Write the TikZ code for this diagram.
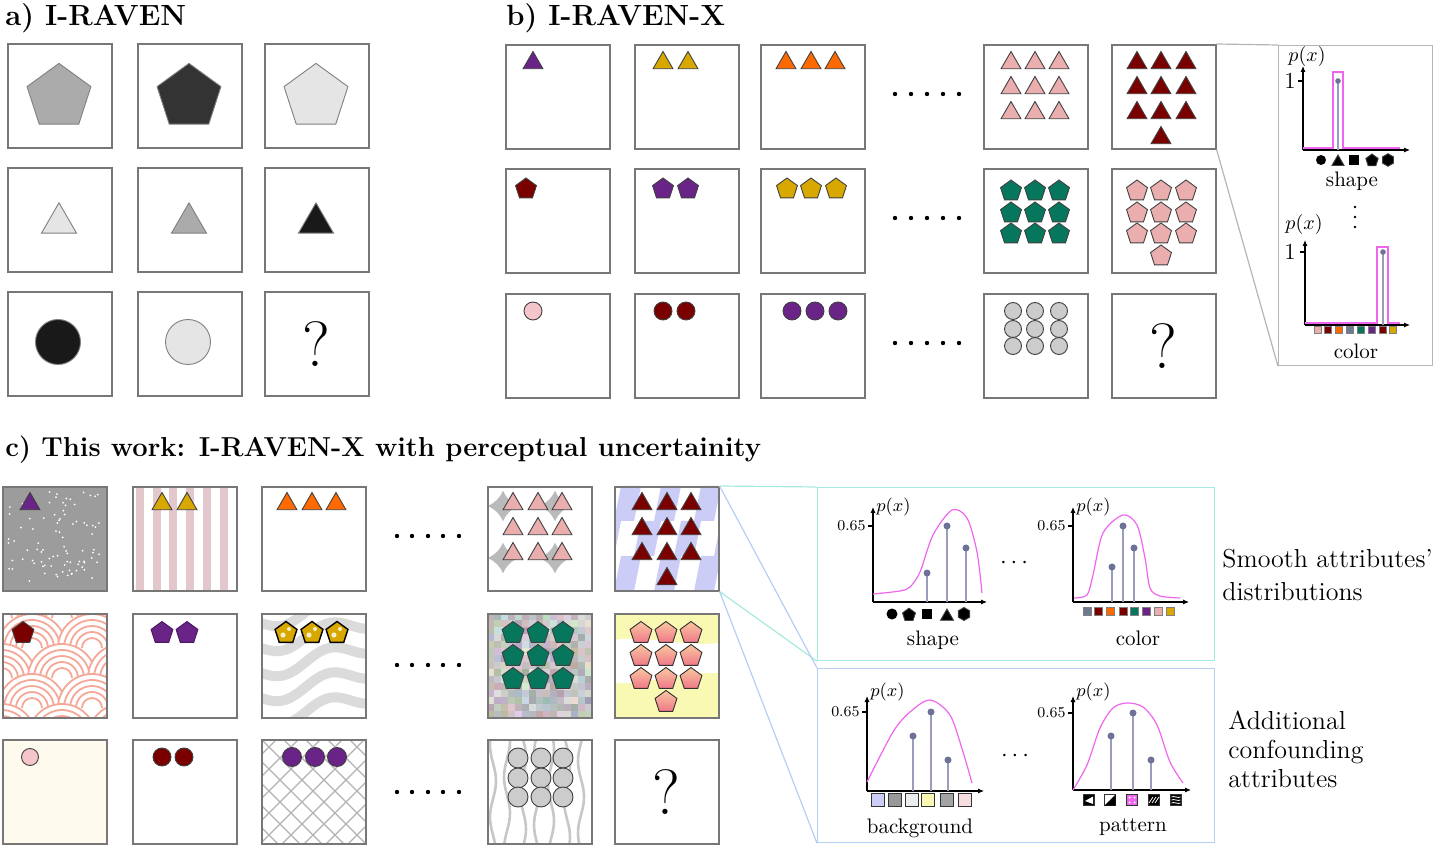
\documentclass[tikz,border=0pt]{standalone}
\usepackage{tikz}
\usetikzlibrary{positioning,arrows.meta,calc,backgrounds}
\usepackage{amsmath,amssymb}

\definecolor{cellgray}{HTML}{777777}
\definecolor{rvpurple}{HTML}{6A2386}
\definecolor{rvgold}{HTML}{D8A800}
\definecolor{rvorange}{HTML}{FF6A00}
\definecolor{rvred}{HTML}{7A0000}
\definecolor{rvteal}{HTML}{06775C}
\definecolor{rvpink}{HTML}{EBAEAE}
\definecolor{rvrose}{HTML}{F4C6CC}
\definecolor{rvsilver}{HTML}{CCCCCC}
\definecolor{rvslate}{HTML}{6E7A90}
\definecolor{curvepink}{HTML}{EE66EE}
\definecolor{stemcol}{HTML}{9A9CBE}
\definecolor{dotcol}{HTML}{6E7296}
\definecolor{tealline}{HTML}{A6E9DE}
\definecolor{blueline}{HTML}{B4CFF2}
\definecolor{zoomline}{HTML}{B5B5B5}
\definecolor{stripecol}{HTML}{E2C8CC}
\definecolor{lavcol}{HTML}{CBCDF6}
\definecolor{salmoncol}{HTML}{F6A898}
\definecolor{yellowbg}{HTML}{F9F9B4}
\definecolor{creambg}{HTML}{FFFAEE}
\definecolor{peachcol}{HTML}{F8C8A0}
\definecolor{rosecol}{HTML}{F07888}

% shapes: centre x, centre y, radius, options
\newcommand{\rvtri}[4]{\filldraw[shapeline,#4,shift={(#1,#2)}] (-90:#3) -- (30:#3) -- (150:#3) -- cycle;}
\newcommand{\rvpent}[4]{\filldraw[shapeline,#4,shift={(#1,#2)}] (-90:#3) -- (-18:#3) -- (54:#3) -- (126:#3) -- (198:#3) -- cycle;}
\newcommand{\rvhex}[4]{\filldraw[shapeline,#4,shift={(#1,#2)}] (-90:#3) -- (-30:#3) -- (30:#3) -- (90:#3) -- (150:#3) -- (210:#3) -- cycle;}
\newcommand{\rvdisc}[4]{\filldraw[shapeline,#4] (#1,#2) circle[radius=#3];}

\begin{document}
\begin{tikzpicture}[
  x=0.5pt,y=-0.5pt,
  cell/.style={draw=cellgray,line width=0.8pt,minimum size=52pt,inner sep=0pt,anchor=north west},
  shapeline/.style={draw=black!75,line width=0.45pt},
  title/.style={font=\fontsize{14.6}{17}\selectfont\bfseries,anchor=north west,inner sep=0pt},
  qmark/.style={font=\fontsize{32}{32}\selectfont,inner sep=0pt},
  axis/.style={-{Latex[length=3pt,width=2.6pt]},line width=0.55pt},
  curve/.style={curvepink,line width=0.6pt},
  stem/.style={stemcol,line width=1pt},
  pxlbl/.style={font=\fontsize{9.5}{11}\selectfont,inner sep=0pt},
  ticklbl/.style={font=\fontsize{7.5}{9}\selectfont,inner sep=1pt,anchor=east},
  axlbl/.style={font=\fontsize{10.5}{12}\selectfont,inner sep=0pt},
  zoombox/.style={line width=0.6pt,inner sep=0pt,anchor=north west},
  sqicon/.style={draw=black!80,line width=0.45pt}
]
\useasboundingbox (0,0) rectangle (1453,845);

% titles
\node[title] (tA) at (5,3) {a) I-RAVEN};
\node[title] (tB) at (506,3) {b) I-RAVEN-X};
\node[title,font=\fontsize{13.7}{16}\selectfont\bfseries] (tC) at (5,436) {c) This work: I-RAVEN-X with perceptual uncertainity};

% cells
\foreach \r/\yy in {1/43,2/167,3/291}
  \foreach \c/\xx in {1/7,2/137,3/264}
    {\node[cell] (a\r\c) at (\xx,\yy) {};}
\foreach \r/\yy in {1/44,2/168,3/293}
  \foreach \c/\xx in {1/505,2/634,3/760,4/983,5/1111}
    {\node[cell] (b\r\c) at (\xx,\yy) {};}
\foreach \r/\yy in {1/486,2/613,3/739}
  \foreach \c/\xx in {1/2,2/132,3/261,4/487,5/614}
    {\node[cell] (c\r\c) at (\xx,\yy) {};}

% a) I-RAVEN
\foreach \n/\f in {a11/black!33,a12/black!80,a13/black!10}{
  \begin{scope}[shift={(\n.north west)}]
    \rvpent{52}{54}{33.6}{fill=\f,draw=black!50}
  \end{scope}}
\foreach \n/\f in {a21/black!10,a22/black!33,a23/black!90}{
  \begin{scope}[shift={(\n.north west)}]
    \rvtri{52}{56}{20.2}{fill=\f,draw=black!50}
  \end{scope}}
\foreach \n/\f in {a31/black!90,a32/black!10}{
  \begin{scope}[shift={(\n.north west)}]
    \rvdisc{51}{51}{22.5}{fill=\f,draw=black!50}
  \end{scope}}
\node[qmark] (qa) at (a33.center) {?};

% b) I-RAVEN-X
\begin{scope}[shift={(b11.north west)}] \rvtri{28}{19}{11.5}{fill=rvpurple} \end{scope}
\begin{scope}[shift={(b12.north west)}]
  \foreach \px in {29,54} {\rvtri{\px}{19}{11.5}{fill=rvgold}}
\end{scope}
\begin{scope}[shift={(b13.north west)}]
  \foreach \px in {26,51,75} {\rvtri{\px}{19}{11.5}{fill=rvorange}}
\end{scope}
\begin{scope}[shift={(b14.north west)}]
  \foreach \px in {28,52,76} \foreach \py in {19,44,69} {\rvtri{\px}{\py}{11.5}{fill=rvpink}}
\end{scope}
\begin{scope}[shift={(b15.north west)}]
  \foreach \px in {26,50,75} \foreach \py in {19,44,69} {\rvtri{\px}{\py}{11.5}{fill=rvred}}
  \rvtri{50}{94}{11.5}{fill=rvred}
\end{scope}
\begin{scope}[shift={(b21.north west)}] \rvpent{21}{21}{11}{fill=rvred} \end{scope}
\begin{scope}[shift={(b22.north west)}]
  \foreach \px in {29,54} {\rvpent{\px}{21}{11}{fill=rvpurple}}
\end{scope}
\begin{scope}[shift={(b23.north west)}]
  \foreach \px in {27,51,76} {\rvpent{\px}{21}{11}{fill=rvgold}}
\end{scope}
\begin{scope}[shift={(b24.north west)}]
  \foreach \px in {28,52,76} \foreach \py in {23,45,66} {\rvpent{\px}{\py}{11}{fill=rvteal}}
\end{scope}
\begin{scope}[shift={(b25.north west)}]
  \foreach \px in {26,50,75} \foreach \py in {23,45,66} {\rvpent{\px}{\py}{11}{fill=rvpink}}
  \rvpent{50}{88}{11}{fill=rvpink}
\end{scope}
\begin{scope}[shift={(b31.north west)}] \rvdisc{28}{18}{9}{fill=rvrose} \end{scope}
\begin{scope}[shift={(b32.north west)}]
  \foreach \px in {29,52} {\rvdisc{\px}{18}{9}{fill=rvred}}
\end{scope}
\begin{scope}[shift={(b33.north west)}]
  \foreach \px in {32,55,78} {\rvdisc{\px}{18}{9}{fill=rvpurple}}
\end{scope}
\begin{scope}[shift={(b34.north west)}]
  \foreach \px in {30,52,76} \foreach \py in {18,36,53} {\rvdisc{\px}{\py}{8.5}{fill=rvsilver}}
\end{scope}
\node[qmark] (qb) at (b35.center) {?};
\foreach \yy in {94,218,343}
  \foreach \xx in {895,911,927,943,959}
    {\fill (\xx,\yy) circle[radius=2.2];}

% b) one-hot inset
\node[zoombox,draw=zoomline,minimum width=77pt,minimum height=160pt] (bzoom) at (1278,45) {};
\draw[zoomline,line width=0.6pt] (b15.north east) -- (bzoom.north west);
\draw[zoomline,line width=0.6pt] (b15.south east) -- (bzoom.south west);

\draw[axis] (1303,150) -- (1410,150);
\draw[axis] (1303,150) -- (1303,66);
\draw[line width=0.55pt] (1298,81) -- (1303,81);
\node[pxlbl,font=\fontsize{10}{12}\selectfont] (ipx1) at (1307,57) {$p(x)$};
\node[font=\fontsize{11.5}{12}\selectfont,inner sep=0pt] (ione1) at (1290,81) {1};
\draw[curve] (1303,148) -- (1333,148) -- (1333,72) -- (1343,72) -- (1343,148) -- (1400,148);
\draw[stem] (1338,150) -- (1338,81);
\fill[dotcol] (1338,81) circle[radius=2.8];
\fill (1321,160) circle[radius=5];
\rvtri{1338}{162}{7}{fill=black}
\fill (1348.5,155) rectangle (1358.5,165);
\rvpent{1372}{160.5}{6.5}{fill=black}
\rvhex{1388}{160}{6.3}{fill=black}
\node[axlbl] (ishape) at (1352,181) {shape};
\foreach \vy in {207,217,227} {\fill (1355,\vy) circle[radius=1.4];}

\draw[axis] (1305,325) -- (1410,325);
\draw[axis] (1305,325) -- (1305,240);
\draw[line width=0.55pt] (1300,252) -- (1305,252);
\node[pxlbl,font=\fontsize{10}{12}\selectfont] (ipx2) at (1304,225) {$p(x)$};
\node[font=\fontsize{11.5}{12}\selectfont,inner sep=0pt] (ione2) at (1290,252) {1};
\draw[curve] (1305,323) -- (1377,323) -- (1377,247) -- (1388,247) -- (1388,323) -- (1400,323);
\draw[stem] (1383,325) -- (1383,252);
\fill[dotcol] (1383,252) circle[radius=2.8];
\foreach \sx/\sc in {1318/rvpink,1328/rvred,1339/rvorange,1350/rvslate,1361/rvteal,1372/rvpurple,1383/rvred,1393/rvgold}
  {\filldraw[fill=\sc,draw=gray,line width=0.3pt] (\sx-3.5,326.5) rectangle ++(7,7);}
\node[axlbl] (icolor) at (1356,351) {color};

% c) backgrounds
\begin{scope}[on background layer]
  \begin{scope}[shift={(c11.north west)}]
    \clip (0,0) rectangle (104,104);
    \fill[black!39] (0,0) rectangle (104,104);
    \pgfmathsetseed{11}
    \foreach \k in {1,...,90}
      {\fill[white] (52+46*rand,52+46*rand) circle[radius=1];}
  \end{scope}
  \begin{scope}[shift={(c12.north west)}]
    \clip (0,0) rectangle (104,104);
    \foreach \k in {0,...,6}
      {\fill[stripecol] (4+16.7*\k,0) rectangle ++(8,104);}
  \end{scope}
  \begin{scope}[shift={(c14.north west)}]
    \clip (0,0) rectangle (104,104);
    \fill[black!27] (0,0) rectangle (104,104);
    \foreach \px in {-10,42,94,146}
      \foreach \py in {-6,46,98,150}
        {\fill[white] (\px,\py) circle[radius=28];}
  \end{scope}
  \begin{scope}[shift={(c15.north west)}]
    \clip (0,0) rectangle (104,104);
    \foreach \r/\ox in {0/0,1/20,2/0}
      \foreach \k in {-1,...,3}
        {\fill[lavcol] (\k*40+\ox+7,\r*35) -- ++(20,0) -- ++(-7,35) -- ++(-20,0) -- cycle;}
  \end{scope}
  \begin{scope}[shift={(c21.north west)}]
    \clip (0,0) rectangle (104,104);
    \foreach \py/\ox in {5/0,35/30,65/0,95/30,125/0}
      \foreach \k in {-1,0,1,2}{
        \begin{scope}[shift={(\ox+\k*60,\py)}]
          \fill[white] (180:34) arc[start angle=180,end angle=360,radius=34] -- cycle;
          \foreach \rr in {34,28,22,16,10}
            {\draw[salmoncol,line width=0.9pt] (180:\rr) arc[start angle=180,end angle=360,radius=\rr];}
        \end{scope}}
  \end{scope}
  \begin{scope}[shift={(c23.north west)}]
    \clip (0,0) rectangle (104,104);
    \foreach \w in {10,35,60,85,110,135}
      {\draw[black!14,line width=5pt] plot[domain=-10:115,samples=40,smooth] (\x,{\w+8*sin(4*\x)-0.25*\x});}
  \end{scope}
  \begin{scope}[shift={(c24.north west)}]
    \clip (0,0) rectangle (104,104);
    \pgfmathsetseed{5}
    \foreach \i in {0,...,14}
      \foreach \j in {0,...,14}{
        \pgfmathsetmacro{\ngray}{0.68+0.18*rnd}
        \pgfmathsetmacro{\nr}{min(1,max(0,\ngray+0.07*rand))}
        \pgfmathsetmacro{\ng}{min(1,max(0,\ngray+0.07*rand))}
        \pgfmathsetmacro{\nb}{min(1,max(0,\ngray+0.07*rand))}
        \definecolor{noisecol}{rgb}{\nr,\ng,\nb}
        \fill[noisecol] (\i*7,\j*7) rectangle ++(7.2,7.2);
      }
  \end{scope}
  \begin{scope}[shift={(c25.north west)}]
    \clip (0,0) rectangle (104,104);
    \fill[yellowbg] (0,0) rectangle (104,104);
    \fill[white] (0,27) .. controls (35,22) and (70,34) .. (104,30)
      -- (104,60) .. controls (70,58) and (35,72) .. (0,70) -- cycle;
  \end{scope}
  \fill[creambg] (c31.south west) rectangle (c31.north east);
  \begin{scope}[shift={(c33.north west)}]
    \clip (0,0) rectangle (104,104);
    \foreach \k in {-6,...,6}{
      \draw[black!30,line width=0.7pt] (\k*22,0) -- ++(110,110);
      \draw[black!30,line width=0.7pt] (\k*22+104,0) -- ++(-110,110);}
  \end{scope}
  \begin{scope}[shift={(c34.north west)}]
    \clip (0,0) rectangle (104,104);
    \foreach \vx in {6,20,36,50,64,80,94}
      {\draw[black!22,line width=1.3pt] plot[domain=0:104,samples=25,smooth] ({\vx+3*sin(5*\x+40*\vx)},\x);}
  \end{scope}
\end{scope}

% c) shapes
\begin{scope}[shift={(c11.north west)}] \rvtri{28}{18}{11.5}{fill=rvpurple} \end{scope}
\begin{scope}[shift={(c12.north west)}]
  \foreach \px in {30,55} {\rvtri{\px}{18}{11.5}{fill=rvgold}}
\end{scope}
\begin{scope}[shift={(c13.north west)}]
  \foreach \px in {26,51,75} {\rvtri{\px}{18}{11.5}{fill=rvorange}}
\end{scope}
\begin{scope}[shift={(c14.north west)}]
  \foreach \px in {26,51,75} \foreach \py in {18,43,68} {\rvtri{\px}{\py}{11.5}{fill=rvpink}}
\end{scope}
\begin{scope}[shift={(c15.north west)}]
  \foreach \px in {28,53,77} \foreach \py in {18,43,68} {\rvtri{\px}{\py}{11.5}{fill=rvred}}
  \rvtri{53}{93}{11.5}{fill=rvred}
\end{scope}
\begin{scope}[shift={(c21.north west)}] \rvpent{21}{20}{11.5}{fill=rvred} \end{scope}
\begin{scope}[shift={(c22.north west)}]
  \foreach \px in {30,55} {\rvpent{\px}{20}{11.5}{fill=rvpurple,draw=rvpurple!70!black}}
\end{scope}
\begin{scope}[shift={(c23.north west)}]
  \foreach \px in {25,51,76}{
    \rvpent{\px}{20}{11.5}{fill=rvgold,draw=black,line width=0.7pt}
    \fill[white!80!rvgold] (\px-3,22) circle[radius=2.6];
    \fill[white!80!rvgold] (\px+3,16) circle[radius=2];}
\end{scope}
\begin{scope}[shift={(c24.north west)}]
  \foreach \px in {26,51,76} \foreach \py in {20,43,66} {\rvpent{\px}{\py}{11.5}{fill=rvteal}}
\end{scope}
\begin{scope}[shift={(c25.north west)}]
  \foreach \px/\py in {27/20,52/20,77/20,27/43,52/43,77/43,27/66,52/66,77/66,52/89}
    {\rvpent{\px}{\py}{11.5}{top color=peachcol,bottom color=rosecol,draw=black!80}}
\end{scope}
\begin{scope}[shift={(c31.north west)}] \rvdisc{28}{18}{8.5}{fill=rvrose} \end{scope}
\begin{scope}[shift={(c32.north west)}]
  \foreach \px in {30,52} {\rvdisc{\px}{18}{9}{fill=rvred}}
\end{scope}
\begin{scope}[shift={(c33.north west)}]
  \foreach \px in {31,54,76} {\rvdisc{\px}{18}{9.5}{fill=rvpurple}}
\end{scope}
\begin{scope}[shift={(c34.north west)}]
  \foreach \px in {31,54,76} \foreach \py in {19,39,58} {\rvdisc{\px}{\py}{10}{fill=rvsilver}}
\end{scope}
\node[qmark] (qc) at (c35.center) {?};
\foreach \yy in {536,665,792}
  \foreach \xx in {397,412,428,443,459}
    {\fill (\xx,\yy) circle[radius=2.2];}

% c) distribution panels
\node[zoombox,draw=tealline,minimum width=198.5pt,minimum height=86.5pt] (smoothbox) at (817,487) {};
\node[zoombox,draw=blueline,minimum width=198.5pt,minimum height=87pt] (confbox) at (817,668) {};
\draw[tealline,line width=0.6pt] (c15.north east) -- (smoothbox.north west);
\draw[tealline,line width=0.6pt] (c15.south east) -- (smoothbox.south west);
\draw[blueline,line width=0.6pt] (c15.north east) -- (confbox.north west);
\draw[blueline,line width=0.6pt] (c15.south east) -- (confbox.south west);

% shape
\draw[axis] (873,602) -- (987,602);
\draw[axis] (873,602) -- (873,507);
\draw[line width=0.55pt] (868,526) -- (873,526);
\node[ticklbl] (tk1) at (868,526) {0.65};
\node[pxlbl,anchor=west] (px1) at (876,507) {$p(x)$};
\draw[curve] plot[smooth] coordinates {(873,594) (900,591) (910,587) (920,572) (933,535) (952,510) (967,518) (977,552) (982,593)};
\foreach \sx/\sy in {927/573,947/526,966/548}{
  \draw[stem] (\sx,602) -- (\sx,\sy);
  \fill[dotcol] (\sx,\sy) circle[radius=3.5];}
\fill (892,614) circle[radius=5.5];
\rvpent{909}{615}{6.8}{fill=black}
\fill (922,609) rectangle (932,619);
\rvtri{947}{616.5}{7.5}{fill=black}
\rvhex{964}{614}{6.5}{fill=black}
\node[axlbl] (l1) at (933,640) {shape};
\node[font=\fontsize{12}{12}\selectfont,inner sep=0pt] (sdots) at (1016,563) {$\cdots$};

% color
\draw[axis] (1073,602) -- (1189,602);
\draw[axis] (1073,602) -- (1073,507);
\draw[line width=0.55pt] (1068,526) -- (1073,526);
\node[ticklbl] (tk2) at (1068,526) {0.65};
\node[pxlbl,anchor=west] (px2) at (1076,507) {$p(x)$};
\draw[curve] plot[smooth] coordinates {(1074,598) (1087,595) (1093,575) (1103,533) (1123,515) (1137,525) (1145,558) (1150,588) (1160,596) (1180,598)};
\foreach \sx/\sy in {1112/567,1123/526,1134/548}{
  \draw[stem] (\sx,602) -- (\sx,\sy);
  \fill[dotcol] (\sx,\sy) circle[radius=3.5];}
\foreach \sx/\sc in {1087/rvslate,1098/rvred,1110/rvorange,1123/rvred,1134/rvteal,1146/rvpurple,1158/rvpink,1170/rvgold}
  {\filldraw[fill=\sc,draw=gray,line width=0.3pt] (\sx-4,607) rectangle ++(8,8);}
\node[axlbl] (l2) at (1138,638) {color};

% background
\draw[axis] (867,791) -- (984,791);
\draw[axis] (867,791) -- (867,696);
\draw[line width=0.55pt] (862,712) -- (867,712);
\node[ticklbl] (tk3) at (862,712) {0.65};
\node[pxlbl,anchor=west] (px3) at (870,692) {$p(x)$};
\draw[curve] plot[smooth] coordinates {(867,782) (893,732) (910,712) (930,700) (950,715) (963,752) (972,783)};
\foreach \sx/\sy in {913/736,931/712,948/760}{
  \draw[stem] (\sx,791) -- (\sx,\sy);
  \fill[dotcol] (\sx,\sy) circle[radius=3.5];}
\foreach \sx/\sc in {878/lavcol,895/black!40,912/black!7,928/yellowbg,947/black!36,965/rvrose!60}
  {\filldraw[fill=\sc,sqicon] (\sx-6.5,793.5) rectangle ++(13,13);}
\node[axlbl] (l3) at (920,828) {background};
\node[font=\fontsize{12}{12}\selectfont,inner sep=0pt] (cdots) at (1017,756) {$\cdots$};

% pattern
\draw[axis] (1073,790) -- (1191,790);
\draw[axis] (1073,790) -- (1073,696);
\draw[line width=0.55pt] (1068,713) -- (1073,713);
\node[ticklbl] (tk4) at (1068,713) {0.65};
\node[pxlbl,anchor=west] (px4) at (1076,692) {$p(x)$};
\draw[curve] plot[smooth] coordinates {(1073,790) (1087,765) (1100,728) (1113,708) (1127,703) (1143,707) (1157,725) (1170,762) (1183,783)};
\foreach \sx/\sy in {1111/736,1133/713,1151/760}{
  \draw[stem] (\sx,790) -- (\sx,\sy);
  \fill[dotcol] (\sx,\sy) circle[radius=3.5];}
\filldraw[fill=black,sqicon] (1083.5,794.5) rectangle ++(11,11);
\fill[white] (1085,801) -- (1093,796.5) -- (1093,804) -- cycle;
\draw[sqicon] (1104.5,794.5) rectangle ++(11,11);
\fill (1115.5,794.5) -- (1115.5,805.5) -- (1104.5,805.5) -- cycle;
\filldraw[fill=curvepink,sqicon] (1126.5,794.5) rectangle ++(11,11);
\foreach \dx in {-2.5,2.5} \foreach \dy in {-2.5,2.5} {\fill[white] (1132+\dx,800+\dy) circle[radius=1];}
\filldraw[fill=black,sqicon] (1148.5,794.5) rectangle ++(11,11);
\foreach \dx in {-3,0,3} {\draw[white,line width=0.4pt] (1152+\dx,803) -- (1156+\dx,797);}
\filldraw[fill=black,sqicon] (1170.5,794.5) rectangle ++(11,11);
\foreach \dy in {797,800,803} {\draw[white,line width=0.4pt] (1171.5,\dy) .. controls (1174,\dy-1.5) and (1178,\dy+1.5) .. (1180.5,\dy);}
\node[axlbl] (l4) at (1133,827) {pattern};

% side notes
\node[font=\fontsize{13}{16.5}\selectfont,align=left,anchor=north west,inner sep=0pt] (smoothtxt) at (1222,549) {Smooth attributes'\\distributions};
\node[font=\fontsize{13}{14.5}\selectfont,align=left,anchor=north west,inner sep=0pt] (conftxt) at (1228,711) {Additional\\confounding\\attributes};
\end{tikzpicture}
\end{document}
